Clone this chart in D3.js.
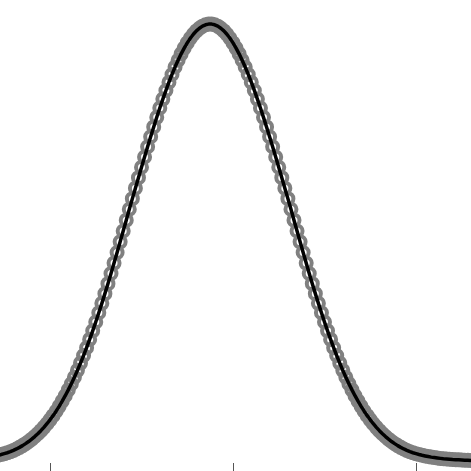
<!DOCTYPE html>
<html>
<head>
<meta charset="utf-8">
<script src="https://cdn.jsdelivr.net/npm/d3@7"></script>
<style>
  html, body { margin: 0; padding: 0; background: #fff; }
  svg { display: block; }
</style>
</head>
<body>
<div id="chart"></div>
<script>
// sample positions (one step per sample)
var xValues = d3.range(-80, 81);

var yValues = [
  0.0089, 0.0102, 0.0116, 0.0131, 0.0148, 0.0168, 0.0189, 0.0213, 0.0243, 0.0276,
  0.0312, 0.0352, 0.0397, 0.0446, 0.0500, 0.0559, 0.0624, 0.0694, 0.0770, 0.0853,
  0.0942, 0.1038, 0.1140, 0.1251, 0.1369, 0.1494, 0.1627, 0.1768, 0.1917, 0.2074,
  0.2240, 0.2413, 0.2593, 0.2782, 0.2978, 0.3181, 0.3391, 0.3607, 0.3830, 0.4058,
  0.4291, 0.4529, 0.4770, 0.5015, 0.5262, 0.5511, 0.5761, 0.6004, 0.6244, 0.6484,
  0.6722, 0.6958, 0.7192, 0.7421, 0.7645, 0.7864, 0.8077, 0.8282, 0.8479, 0.8668,
  0.8846, 0.9015, 0.9171, 0.9317, 0.9449, 0.9568, 0.9674, 0.9765, 0.9842, 0.9904,
  0.9951, 0.9982, 0.9998,
  0.9998, 0.9982, 0.9951, 0.9904, 0.9842, 0.9765, 0.9674, 0.9568, 0.9449, 0.9317,
  0.9171, 0.9015, 0.8846, 0.8668, 0.8479, 0.8282, 0.8077, 0.7864, 0.7645, 0.7421,
  0.7192, 0.6958, 0.6722, 0.6484, 0.6244, 0.6004, 0.5761, 0.5511, 0.5262, 0.5015,
  0.4770, 0.4529, 0.4291, 0.4058, 0.3830, 0.3607, 0.3391, 0.3181, 0.2978, 0.2782,
  0.2593, 0.2413, 0.2240, 0.2074, 0.1917, 0.1768, 0.1627, 0.1494, 0.1369, 0.1251,
  0.1140, 0.1038, 0.0942, 0.0853, 0.0770, 0.0694, 0.0624, 0.0559, 0.0500, 0.0446,
  0.0397, 0.0352, 0.0312, 0.0276, 0.0243, 0.0213, 0.0189, 0.0168, 0.0148, 0.0131,
  0.0116, 0.0102, 0.0089, 0.0079, 0.0069, 0.0060, 0.0052, 0.0046, 0.0040, 0.0034,
  0.0030, 0.0026, 0.0022, 0.0019, 0.0017, 0.0014, 0.0012, 0.0010
];

var xTicks = [-60, 0, 60];

var width = 471,
    height = 471;

var data = xValues.map(function(x, i) { return { x: x, y: yValues[i] }; });

var x = d3.scaleLinear().domain([-60, 60]).range([50, 416]);
var y = d3.scaleLinear().domain([0, 1]).range([461, 24]);

var svg = d3.select("#chart").append("svg")
    .attr("width", width)
    .attr("height", height);

svg.append("rect")
    .attr("width", width)
    .attr("height", height)
    .attr("fill", "#fff");

// open markers
svg.append("g")
  .selectAll("circle")
  .data(data)
  .enter().append("circle")
    .attr("cx", function(d) { return x(d.x); })
    .attr("cy", function(d) { return y(d.y); })
    .attr("r", 5.5)
    .attr("fill", "none")
    .attr("stroke", "#808080")
    .attr("stroke-width", 4);

// line through the samples
var line = d3.line()
    .x(function(d) { return x(d.x); })
    .y(function(d) { return y(d.y); });

svg.append("path")
    .datum(data)
    .attr("d", line)
    .attr("fill", "none")
    .attr("stroke", "#000")
    .attr("stroke-width", 3.5)
    .attr("stroke-linejoin", "round");

// bottom ticks, no labels (they are cut off below the frame)
var axis = d3.axisBottom(x)
    .tickValues(xTicks)
    .tickSize(8)
    .tickFormat("");

var gAxis = svg.append("g")
    .attr("transform", "translate(0,463)")
    .call(axis);
gAxis.select(".domain").remove();
gAxis.selectAll(".tick line")
    .attr("stroke", "#555")
    .attr("stroke-width", 1);
</script>
</body>
</html>
